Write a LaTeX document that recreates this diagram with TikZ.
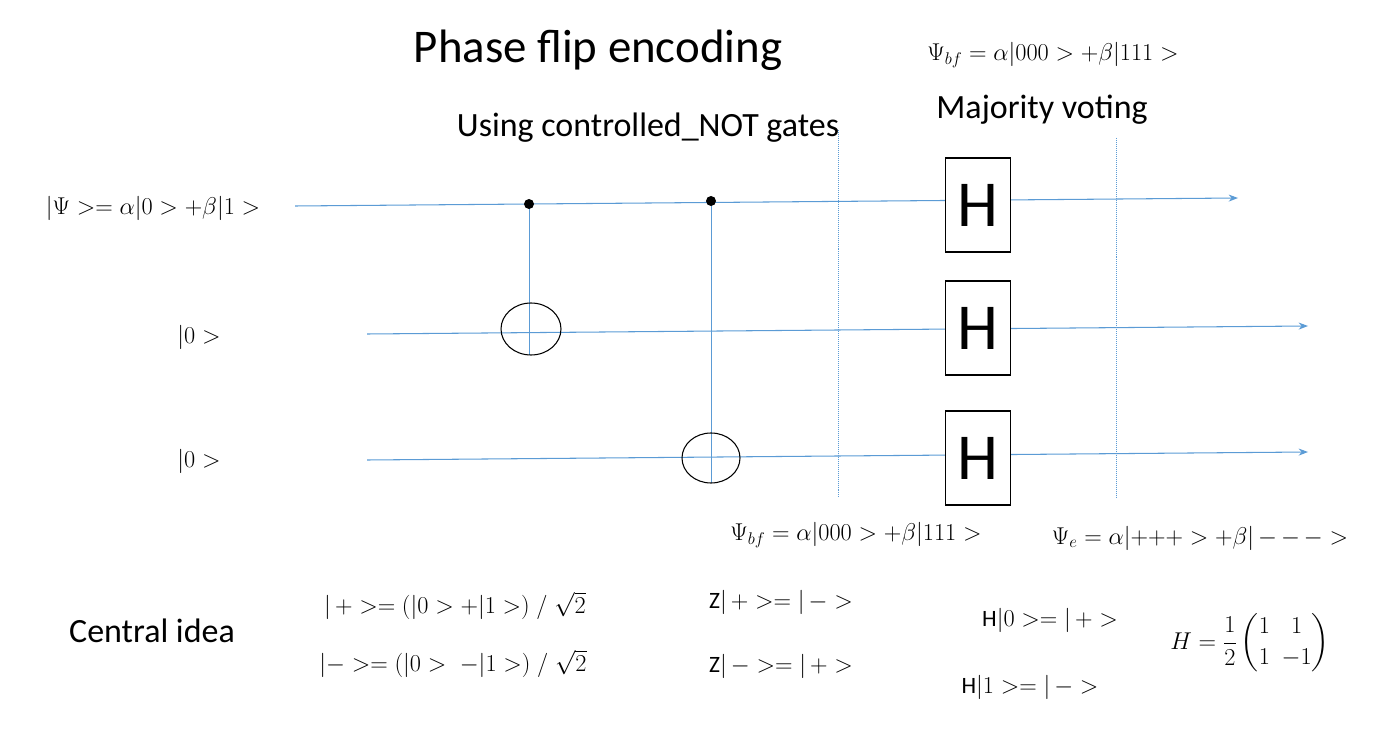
\documentclass[tikz,border=0pt]{standalone}
\usepackage{amsmath}
\usepackage{fontspec}
\setsansfont{Carlito}
\usetikzlibrary{arrows.meta}
\definecolor{wire}{RGB}{91,155,213}
\begin{document}
\begin{tikzpicture}[x=0.03cm,y=-0.03cm,
  wire/.style={draw=wire,line width=0.9pt,-{Stealth[length=8pt,width=6pt]}},
  vline/.style={draw=wire,line width=0.7pt},
  sep/.style={draw=wire,densely dotted,line width=0.7pt},
  hbox/.style={draw,line width=0.9pt,minimum width=65*0.03cm,minimum height=94*0.03cm,inner sep=0pt,font=\sffamily\fontsize{56}{56}\selectfont},
  sans/.style={font=\sffamily\fontsize{29}{34}\selectfont},
  mth/.style={font=\fontsize{22}{26}\selectfont},
  small/.style={font=\sffamily\fontsize{20}{24}\selectfont}]
\useasboundingbox (0,0) rectangle (1383,741);
\node[font=\sffamily\fontsize{40}{46}\selectfont] (title) at (598,50) {Phase flip encoding};
\node[sans] (cnot) at (648,128) {Using controlled\_NOT gates};
\node[sans] (mv) at (1042,110) {Majority voting};
\node[mth] (top) at (1053,55) {$\Psi_{bf}=\alpha|000>+\beta|111>$};
% labels
\node[mth] (l1) at (153,208) {$|\Psi>=\alpha|0>+\beta|1>$};
\node[mth] (l2) at (199,337) {$|0>$};
\node[mth] (l3) at (199,461) {$|0>$};
% wires
\coordinate (a1) at (295,206); \coordinate (b1) at (1238,198);
\coordinate (a2) at (367,334); \coordinate (b2) at (1308,326);
\coordinate (a3) at (367,460); \coordinate (b3) at (1308,452);
\draw[wire] (a1) -- (b1);
\draw[wire] (a2) -- (b2);
\draw[wire] (a3) -- (b3);
% CNOTs
\coordinate (c1) at (529,204); \coordinate (t1) at (531,329);
\coordinate (c2) at (711,201); \coordinate (t2) at (711,458);
\draw[vline] (c1) -- (529,355);
\draw[vline] (c2) -- (711,483);
\draw[line width=0.9pt] (t1) ellipse [x radius=30, y radius=26];
\draw[line width=0.9pt] (t2) ellipse [x radius=29, y radius=25];
\fill (c1) circle [radius=5];
\fill (c2) circle [radius=5];
% separators
\coordinate (s1a) at (838,130); \coordinate (s1b) at (838,497);
\coordinate (s2a) at (1116,138); \coordinate (s2b) at (1116,497);
\draw[sep] (s1a) -- (s1b);
\draw[sep] (s2a) -- (s2b);
% H gates
\node[hbox,fill=white] (h1) at (978,205) {H};
\node[hbox,fill=white] (h2) at (978,328) {H};
\node[hbox,fill=white] (h3) at (978,458) {H};
% bottom
\node[mth] (pbf) at (856,535) {$\Psi_{bf}=\alpha|000>+\beta|111>$};
\node[mth] (pe) at (1200,538) {$\Psi_{e}=\alpha|{+}{+}{+}>+\beta|\,{-}\,{-}\,{-}>$};
\node[sans] (ci) at (152,631) {Central idea};
\node[mth] (p1) at (455,606) {$|\,{+}>=(|0>+|1>)\;/\;\sqrt{2}$};
\node[mth] (p2) at (453,664) {$|{-}>=(|0>\;-|1>)\;/\;\sqrt{2}$};
\node[small] (z1) at (781,602) {Z$|\,{+}>=|\,{-}>$};
\node[small] (z2) at (781,666) {Z$|\,{-}>=|\,{+}>$};
\node[small] (hh0) at (1050,620) {H$|0>=|\,{+}>$};
\node[small] (hh1) at (1030,687) {H$|1>=|\,{-}>$};
\node[font=\fontsize{22}{26}\selectfont] (hm) at (1250,643) {$H=\dfrac{1}{2}\begin{pmatrix}1&1\\1&-1\end{pmatrix}$};
\end{tikzpicture}
\end{document}
